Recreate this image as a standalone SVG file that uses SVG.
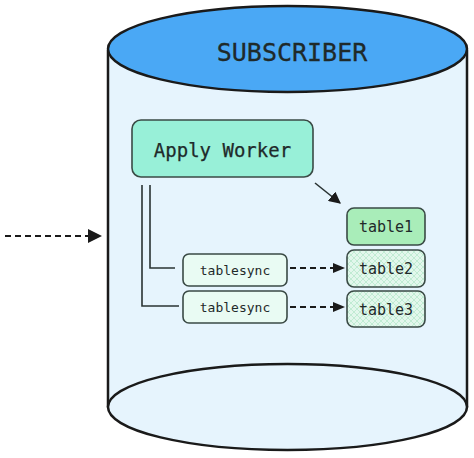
<svg xmlns="http://www.w3.org/2000/svg" width="474" height="458" viewBox="0 0 474 458">
<style>
.mono{font-family:"DejaVu Sans Mono","Liberation Mono",monospace;fill:#1f2a2a}
.cyl{fill:#e6f4fd;stroke:#1a1a1a;stroke-width:2.5}
.box{stroke:#3a4a45;stroke-width:1.6}
.ln{fill:none;stroke:#2a3333;stroke-width:1.6}
.dash{fill:none;stroke:#1a1a1a;stroke-width:2;stroke-dasharray:6 4}
</style>
<defs>
<marker id="ah2" viewBox="0 0 10 10" refX="9" refY="5" markerWidth="12" markerHeight="12" orient="auto" markerUnits="userSpaceOnUse">
<path d="M0,0 L10,5 L0,10 z" fill="#1a1a1a"/>
</marker>
<pattern id="hatch" width="6" height="6" patternUnits="userSpaceOnUse">
<rect width="6" height="6" fill="#e2f7ec"/>
<path d="M0,0 L6,6 M6,0 L0,6" stroke="#b7e8cd" stroke-width="0.8"/>
</pattern>
</defs>
<g id="subscriber">
<path class="cyl" d="M108,50 L108,407 A180,43 0 0 0 467,407 L467,50"/>
<ellipse class="cyl" cx="287.5" cy="407" rx="179.5" ry="43"/>
<ellipse cx="287.5" cy="49" rx="179.5" ry="43" fill="#4aa8f5" stroke="#1a1a1a" stroke-width="2.5"/>
<text class="mono" x="292" y="61" font-size="25" text-anchor="middle" stroke="#1f2a2a" stroke-width="0.3">SUBSCRIBER</text>
</g>
<g id="apply-worker">
<rect class="box" x="132" y="120" width="181" height="57" rx="9" fill="#98f0d8"/>
<text class="mono" x="222.5" y="157" font-size="19" text-anchor="middle" stroke="#1f2a2a" stroke-width="0.25">Apply Worker</text>
</g>
<g id="tablesync1">
<rect class="box" x="183" y="254" width="104" height="32" rx="6" fill="#e9fbf3"/>
<text class="mono" x="235" y="275" font-size="13" text-anchor="middle">tablesync</text>
</g>
<g id="tablesync2">
<rect class="box" x="183" y="291" width="104" height="32" rx="6" fill="#e9fbf3"/>
<text class="mono" x="235" y="312" font-size="13" text-anchor="middle">tablesync</text>
</g>
<g id="table1">
<rect class="box" x="347" y="208" width="78" height="37" rx="7" fill="#a9edb9"/>
<text class="mono" x="386" y="232" font-size="15" text-anchor="middle">table1</text>
</g>
<g id="table2">
<rect class="box" x="347" y="250" width="78" height="37" rx="7" fill="url(#hatch)"/>
<text class="mono" x="386" y="274" font-size="15" text-anchor="middle">table2</text>
</g>
<g id="table3">
<rect class="box" x="347" y="291" width="78" height="36" rx="7" fill="url(#hatch)"/>
<text class="mono" x="386" y="315" font-size="15" text-anchor="middle">table3</text>
</g>
<g id="connectors">
<path class="dash" d="M5,236 L92,236" stroke-width="3" stroke-dasharray="8 5"/>
<path d="M88,229 L102,236 L88,243 z" fill="#1a1a1a"/>
<path class="ln" d="M315,183 L340,203" marker-end="url(#ah2)"/>
<path class="ln" d="M150,185 L150,268 L175,268"/>
<path class="ln" d="M142,185 L142,306 L179,306"/>
<path class="dash" d="M290,268 L336,268" stroke-width="1.8"/>
<path d="M333,263 L345,268 L333,273 z" fill="#1a1a1a"/>
<path class="dash" d="M290,307 L336,307" stroke-width="1.8"/>
<path d="M333,302 L345,307 L333,312 z" fill="#1a1a1a"/>
</g>
</svg>
